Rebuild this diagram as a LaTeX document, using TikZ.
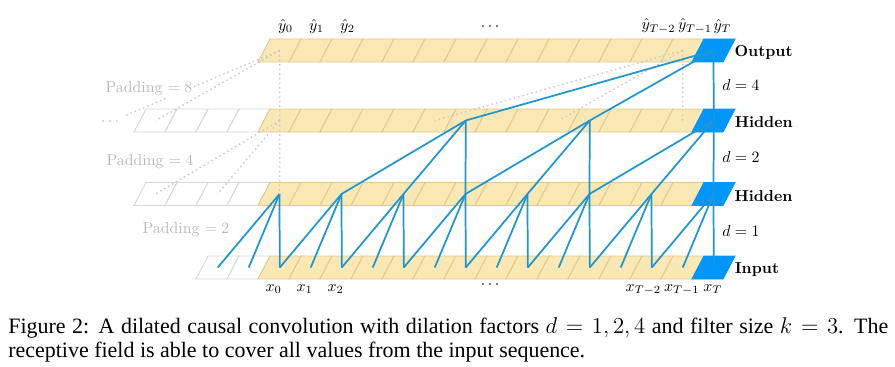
\documentclass[tikz,border=0pt]{standalone}
\usepackage{fontspec}
\newfontfamily\capfont{Liberation Serif}
\usetikzlibrary{calc}

\definecolor{cellfill}{RGB}{250,232,180}
\definecolor{cellline}{RGB}{226,202,140}
\definecolor{lastblue}{RGB}{0,150,250}
\definecolor{connblue}{RGB}{30,150,212}
\definecolor{padline}{RGB}{215,215,215}
\definecolor{ghostgray}{RGB}{200,200,200}
\definecolor{padtext}{RGB}{185,185,185}

\tikzset{
  seqcell/.style={draw=cellline, fill=cellfill, line width=0.6pt},
  padcell/.style={draw=padline, fill=white, line width=0.6pt},
  lastcell/.style={draw=lastblue, fill=lastblue, line width=0.6pt},
  conn/.style={connblue, line width=1.1pt},
  ghost/.style={ghostgray, dotted, line width=0.9pt},
  rowname/.style={right, font=\bfseries},
  padlabel/.style={text=padtext, fill=white, inner sep=1pt},
}

\begin{document}
\begin{tikzpicture}[x=0.633pt,y=-0.633pt]
\useasboundingbox (0,0) rectangle (895,366);

% Filas
\foreach \rw/\yc/\pad/\nudge in {out/50.5/0/0,hb/120.5/4/0.25,ha/194/4/0,in/267.5/2/0.25}{
  \foreach \i in {-4,...,14}{
    \ifnum\i<-\pad\relax\else
      \pgfmathsetmacro\xleft{258+31*\i}
      \ifnum\i<0 \def\sty{padcell}\else\ifnum\i=14 \def\sty{lastcell}\else\def\sty{seqcell}\fi\fi
      \draw[\sty] (\xleft,\yc+11.5) -- ++(31,0) -- ++(12,-23) -- ++(-31,0) -- cycle;
      \coordinate (\rw\i) at (\xleft+21.5+\nudge,\yc);
    \fi
  }
}
\node[text=padtext] (hbdots) at (110,122) {$\cdots$};

% Campo receptivo de y_0 (punteado)
\draw[ghost] (out0) -- (hb0);
\draw[ghost] (out0) -- (hb-4);
\draw[ghost] (out0) -- (hbdots);
\draw[ghost] (hb0) -- (ha0);
\draw[ghost] (hb0) -- (ha-2);
\draw[ghost] (hb0) -- (ha-4);
\foreach \src in {13,9,5}
  \draw[ghost] (out13) -- (hb\src);

% Padding
\node[padlabel] (pad8) at (149,89) {Padding $=8$};
\node[padlabel] (pad4) at (150,162) {Padding $=4$};
\node[padlabel] (pad2) at (186,230) {Padding $=2$};

% Conexiones
\foreach \h in {0,2,...,14}
  \foreach \kk in {0,1,2}{
    \pgfmathtruncatemacro\src{\h-\kk}
    \draw[conn] (ha\h) -- (in\src);
  }
\foreach \h in {6,10,14}
  \foreach \kk in {0,2,4}{
    \pgfmathtruncatemacro\src{\h-\kk}
    \draw[conn] (hb\h) -- (ha\src);
  }
\foreach \src in {14,10,6}
  \draw[conn] (out14) -- (hb\src);

% Nombres de filas
\node[rowname] (outname) at ($(out14)+(15.5,2)$) {Output};
\node[rowname] (hbname) at ($(hb14)+(15.5,2)$) {Hidden};
\node[rowname] (haname) at ($(ha14)+(15.5,2)$) {Hidden};
\node[rowname] (inname) at ($(in14)+(15.5,2)$) {Input};

\node[right,xshift=2pt] (d4) at ($(out14)!0.5!(hb14)$) {$d=4$};
\node[right,xshift=2pt] (d2) at ($(hb14)!0.5!(ha14)$) {$d=2$};
\node[right,xshift=2pt] (d1) at ($(ha14)!0.5!(in14)$) {$d=1$};

% Etiquetas
\foreach \i/\lab/\dt/\db in {0/0/0/0,1/1/0/0,2/2/0/0,12/T-2/1/-2.5,13/T-1/6.5/5,14/T/3/5}{
  \node[above] (ytop\i) at ($(out\i)+(6+\dt,-11.5)$) {$\hat{y}_{\lab}$};
  \node[below] (xbot\i) at ($(in\i)+(-6+\db,11.5)$) {$x_{\lab}$};
}
\node (topdots) at (490,27) {$\cdots$};
\node (botdots) at (490,285) {$\cdots$};

% Leyenda
\node[anchor=north west, inner sep=0pt, text width=557pt, align=justify,
      font=\capfont\fontsize{13.9}{15.2}\selectfont] (caption) at (8,317)
  {Figure 2: A dilated causal convolution with dilation factors $d = 1, 2, 4$ and filter size $k = 3$. The\linebreak receptive field is able to cover all values from the input sequence.};
\end{tikzpicture}
\end{document}
